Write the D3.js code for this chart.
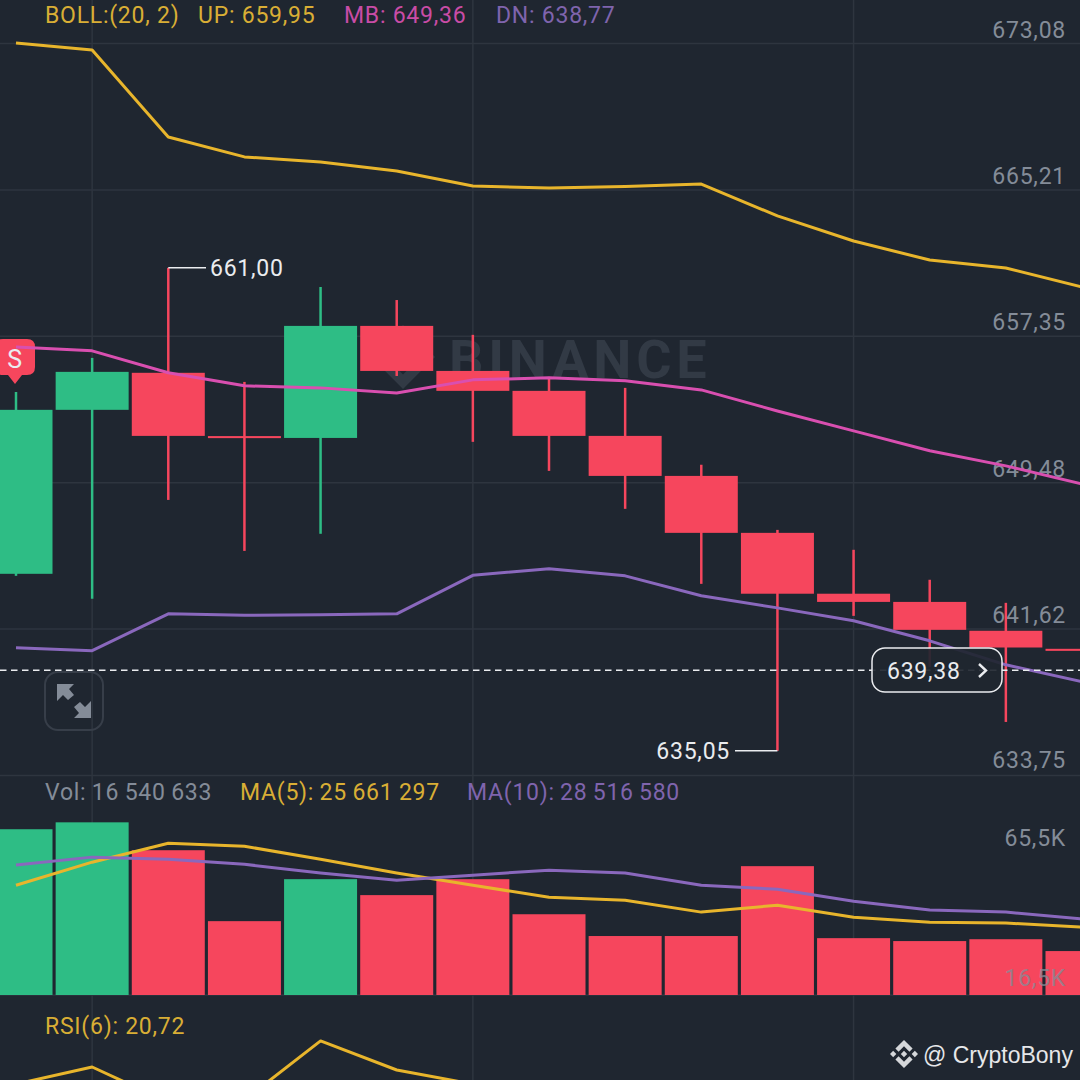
<!DOCTYPE html>
<html>
<head>
<meta charset="utf-8">
<script src="https://cdn.jsdelivr.net/npm/d3@7"></script>
<style>
  html, body { margin: 0; padding: 0; background: #1f2630; }
  svg { display: block; font-family: Roboto, sans-serif; letter-spacing: 0.75px; }
</style>
</head>
<body>
<svg id="chart" width="1080" height="1080"></svg>
<script>
// candles
const opens  = [644.56, 653.37, 655.36, 651.96, 651.86, 657.88, 655.46, 654.39, 651.97, 649.82, 646.76, 643.49, 643.05, 641.50, 640.53];
const closes = [653.37, 655.41, 651.97, 651.85, 657.88, 655.46, 654.39, 651.97, 649.82, 646.76, 643.49, 643.05, 641.55, 640.60, 640.42];
const highs  = [654.33, 656.16, 661.00, 654.87, 659.97, 659.27, 657.40, 655.14, 654.55, 650.42, 646.92, 645.85, 644.24, 643.00, 640.53];
const lows   = [644.45, 643.22, 648.53, 645.79, 646.71, 655.19, 651.65, 650.09, 648.05, 644.02, 635.05, 642.30, 639.56, 636.60, 640.42];

const bollUp = [673.08, 672.70, 668.03, 666.96, 666.69, 666.20, 665.40, 665.29, 665.37, 665.50, 663.79, 662.44, 661.42, 660.99, 659.97];
const bollMb = [656.75, 656.54, 655.36, 654.66, 654.55, 654.28, 654.98, 655.09, 654.93, 654.44, 653.31, 652.24, 651.17, 650.36, 649.39];
const bollDn = [640.59, 640.43, 642.41, 642.33, 642.36, 642.41, 644.48, 644.83, 644.45, 643.38, 642.73, 642.04, 640.96, 639.67, 638.76];

// volume in millions
const volumes = [62.4, 65.0, 54.5, 27.8, 43.6, 37.6, 43.6, 30.4, 22.2, 22.2, 48.5, 21.4, 20.3, 21.0, 16.54];
const volMa5  = [41.3, 50.0, 57.1, 56.0, 51.1, 45.9, 41.3, 36.8, 35.7, 31.2, 33.8, 29.3, 27.4, 27.1, 25.6];
const volMa10 = [48.9, 51.9, 51.1, 49.2, 45.9, 43.2, 45.1, 47.0, 45.9, 41.3, 39.8, 35.3, 32.0, 31.2, 28.6];

const rsi6 = [55.3, 61.0, 49.3, 50.0, 69.7, 60.0, 55.3, 46.7, 36.7, 33.0, 30.0, 27.0, 24.0, 22.0, 20.72];

const priceTicks = [673.08, 665.21, 657.35, 649.48, 641.62, 633.75];
const lastPrice = 639.38;

const colors = {
  bg: '#1f2630', grid: '#2e353f', green: '#2ebd85', red: '#f6465d',
  yellow: '#e8b52c', pink: '#d94fb0', purple: '#8a68bd', grey: '#848c98'
};

const svg = d3.select('#chart');
svg.append('rect').attr('width', 1080).attr('height', 1080).attr('fill', colors.bg);

const x = d3.scaleLinear().domain([0, 14]).range([16, 1082]);
const y = d3.scaleLinear().domain([673.08, 633.75]).range([43, 775]);
const yVol = d3.scaleLinear().domain([0, 65.5]).range([995, 821]);
const yRsi = d3.scaleLinear().domain([80, 20]).range([1010, 1190]);
const bodyWidth = 73;

const comma = (v) => d3.format('.2f')(v).replace('.', ',');
const idx = d3.range(opens.length);

// grid
[1, 6, 11].forEach((i) => {
  svg.append('line').attr('x1', x(i)).attr('x2', x(i)).attr('y1', 0).attr('y2', 1080)
    .attr('stroke', colors.grid).attr('stroke-width', 1.5);
});
svg.append('line').attr('x1', 0).attr('x2', 1080).attr('y1', 995).attr('y2', 995)
  .attr('stroke', colors.grid).attr('stroke-width', 1.5);

const priceAxis = svg.append('g')
  .attr('transform', 'translate(1080,0)')
  .call(d3.axisLeft(y).tickValues(priceTicks).tickSize(1080).tickFormat(comma));
priceAxis.select('.domain').remove();
priceAxis.selectAll('line').attr('stroke', colors.grid).attr('stroke-width', 1.5);
priceAxis.selectAll('text')
  .attr('x', -14).attr('dy', (d) => d === 633.75 ? -8 : -6)
  .attr('text-anchor', 'end').attr('fill', colors.grey)
  .attr('font-size', 23).attr('font-family', 'Roboto, sans-serif');

// binance logo paths, viewBox 126.61
const logoPaths = [
  'M38.73 53.2l24.59-24.58 24.6 24.6 14.3-14.31L63.32 0 24.42 38.9z',
  'M0 63.31l14.3-14.31 14.31 14.31-14.31 14.3z',
  'M38.73 73.41L63.32 98l24.6-24.6 14.31 14.29-38.91 38.91-38.9-38.9z',
  'M98 63.31l14.3-14.31 14.31 14.3-14.31 14.31z',
  'M77.83 63.3L63.32 48.78 52.59 59.51l-1.24 1.23-2.54 2.54 14.51 14.5 14.51-14.47z'
];
function drawLogo(cx, cy, size, fill) {
  const g = svg.append('g')
    .attr('transform', `translate(${cx - size / 2},${cy - size / 2}) scale(${size / 126.61})`);
  logoPaths.forEach((d) => g.append('path').attr('d', d).attr('fill', fill));
}

// watermark
drawLogo(403, 357, 64, '#323a45');
svg.append('text').attr('x', 449).attr('y', 378).text('BINANCE')
  .attr('font-size', 54).attr('font-weight', 700).attr('letter-spacing', 4.8)
  .attr('fill', '#323a45');

// candles
const candles = svg.append('g');
candles.selectAll('line').data(idx.slice(0, 14)).join('line')
  .attr('x1', (i) => x(i)).attr('x2', (i) => x(i))
  .attr('y1', (i) => y(highs[i])).attr('y2', (i) => y(lows[i]))
  .attr('stroke', (i) => closes[i] >= opens[i] ? colors.green : colors.red)
  .attr('stroke-width', 2.5);
candles.selectAll('rect').data(idx).join('rect')
  .attr('x', (i) => x(i) - bodyWidth / 2)
  .attr('width', bodyWidth)
  .attr('y', (i) => y(Math.max(opens[i], closes[i])))
  .attr('height', (i) => Math.abs(y(opens[i]) - y(closes[i])))
  .attr('fill', (i) => closes[i] >= opens[i] ? colors.green : colors.red);

// volume bars
svg.append('g').selectAll('rect').data(idx).join('rect')
  .attr('x', (i) => x(i) - bodyWidth / 2)
  .attr('width', bodyWidth)
  .attr('y', (i) => yVol(volumes[i]))
  .attr('height', (i) => yVol(0) - yVol(volumes[i]))
  .attr('fill', (i) => closes[i] >= opens[i] ? colors.green : colors.red);

svg.append('text').attr('x', 1066).attr('y', 846).attr('text-anchor', 'end')
  .attr('font-size', 23).attr('fill', colors.grey).text('65,5K');
svg.append('text').attr('x', 1066).attr('y', 986).attr('text-anchor', 'end')
  .attr('font-size', 23).attr('fill', colors.grey).attr('opacity', 0.75).text('16,5K');

// indicator lines
const line = (scale) => d3.line().x((d, i) => x(i)).y((d) => scale(d));
function drawLine(values, scale, color) {
  svg.append('path').attr('d', line(scale)(values))
    .attr('fill', 'none').attr('stroke', color).attr('stroke-width', 3)
    .attr('stroke-linejoin', 'round');
}

// sell marker
svg.append('path')
  .attr('d', 'M3,339 H27 Q35,339 35,347 V367 Q35,375 27,375 H22 L15,384 L8,375 H3 Q-5,375 -5,367 V347 Q-5,339 3,339 Z')
  .attr('fill', colors.red);
svg.append('text').attr('x', 15).attr('y', 368).attr('text-anchor', 'middle')
  .attr('font-size', 25).attr('fill', '#eaecef').text('S');

drawLine(bollUp, y, colors.yellow);
drawLine(bollMb, y, colors.pink);
drawLine(bollDn, y, colors.purple);
drawLine(volMa5, yVol, colors.yellow);
drawLine(volMa10, yVol, colors.purple);
drawLine(rsi6, yRsi, colors.yellow);

// high / low notes
svg.append('line').attr('x1', x(2)).attr('x2', 206).attr('y1', y(661)).attr('y2', y(661))
  .attr('stroke', '#eaecef').attr('stroke-width', 1.5);
svg.append('text').attr('x', 210).attr('y', y(661) + 8).attr('font-size', 23)
  .attr('fill', '#eaecef').text(comma(661));
svg.append('line').attr('x1', 735).attr('x2', x(10)).attr('y1', y(635.05)).attr('y2', y(635.05))
  .attr('stroke', '#eaecef').attr('stroke-width', 1.5);
svg.append('text').attr('x', 730).attr('y', y(635.05) + 8).attr('text-anchor', 'end').attr('font-size', 23)
  .attr('fill', '#eaecef').text(comma(635.05));

// last price
svg.append('line').attr('x1', 0).attr('x2', 1080).attr('y1', y(lastPrice)).attr('y2', y(lastPrice))
  .attr('stroke', '#eaecef').attr('stroke-width', 1.5).attr('stroke-dasharray', '6.5 4.5');
svg.append('rect').attr('x', 872).attr('y', 648).attr('width', 130).attr('height', 44).attr('rx', 13)
  .attr('fill', colors.bg).attr('fill-opacity', 0.92).attr('stroke', '#eaecef').attr('stroke-width', 1.5);
svg.append('text').attr('x', 887).attr('y', 678.5).attr('font-size', 23).attr('fill', '#eaecef').text(comma(lastPrice));
svg.append('path').attr('d', 'M979,664 L986,670.5 L979,677').attr('fill', 'none')
  .attr('stroke', '#eaecef').attr('stroke-width', 2.4);

// expand button
svg.append('rect').attr('x', 45).attr('y', 672).attr('width', 58).attr('height', 58).attr('rx', 13)
  .attr('fill', 'none').attr('stroke', '#373e49').attr('stroke-width', 2);
svg.append('path')
  .attr('d', 'M57,684 H74 L69,689 L74,695 L68,700 L63,695 L57,701 Z M91,718 H74 L79,713 L74,707 L80,702 L85,707 L91,701 Z')
  .attr('fill', colors.grey);

// legends
function legend(xPos, yPos, str, color, wordGap = 0) {
  svg.append('text').attr('x', xPos).attr('y', yPos).attr('font-size', 23)
    .attr('word-spacing', wordGap).attr('fill', color).text(str);
}
legend(45, 23, 'BOLL:(20, 2)', '#d9ae35');
legend(198, 23, 'UP: 659,95', '#d9ae35');
legend(344, 23, 'MB: 649,36', '#c94ca6');
legend(496, 23, 'DN: 638,77', '#7f64ad');
legend(45, 800, 'Vol: 16 540 633', colors.grey, -1);
legend(240, 800, 'MA(5): 25 661 297', '#d9ae35', -1);
legend(467, 800, 'MA(10): 28 516 580', '#7f64ad', -1.2);
legend(45, 1034, 'RSI(6): 20,72', '#d9ae35');

// credit
drawLogo(904, 1054, 28, '#d5d7da');
svg.append('text').attr('x', 923).attr('y', 1063).attr('font-size', 23).attr('letter-spacing', 0)
  .attr('font-family', '"Liberation Sans", sans-serif').attr('fill', '#e6e7e9').text('@ CryptoBony');
</script>
</body>
</html>
